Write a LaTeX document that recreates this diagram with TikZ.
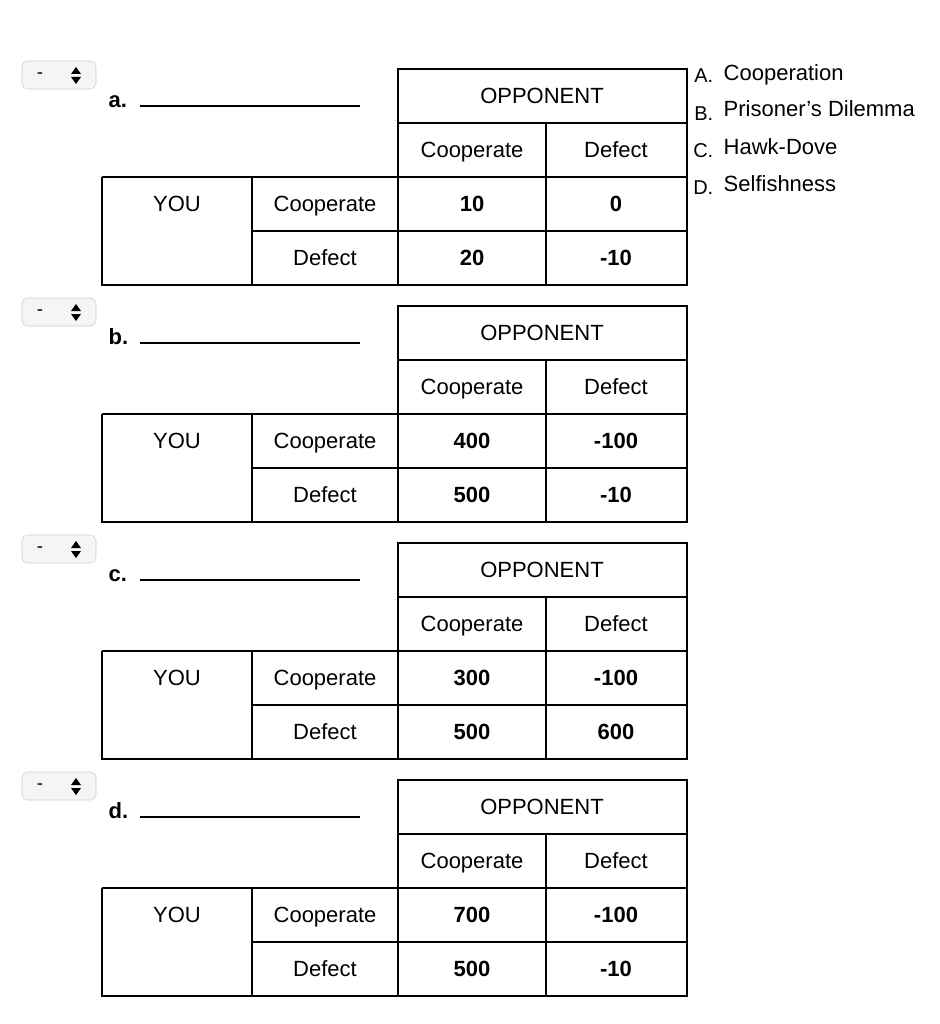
\documentclass[tikz,border=0pt]{standalone}
\usepackage{fontspec}
\setmainfont{Liberation Sans}
\tikzset{
  cell/.style={font=\fontsize{16.5}{18}\selectfont, text height=1.6ex, text depth=.3ex, yshift=-2.5pt},
  num/.style={cell, font=\fontsize{16.5}{18}\selectfont\bfseries},
  grid line/.style={line width=0.9pt},
  choice/.style={font=\fontsize{16.5}{18}\selectfont, anchor=base west}
}
\begin{document}
\begin{tikzpicture}[x=0.75pt,y=-0.75pt]
\useasboundingbox (0,0) rectangle (939,1024);
% one payoff table per game
\foreach \lab/\y/\cc/\cd/\dc/\dd in {a/69/10/0/20/-10, b/306/400/-100/500/-10, c/543/300/-100/500/600, d/780/700/-100/500/-10}{
  \begin{scope}[yshift=-0.75*\y pt]
    % drop-down box
    \draw[gray!40,fill=gray!8,rounded corners=4pt] (22,-8) rectangle (96,20);
    \node[font=\fontsize{14}{16}\selectfont] at (40,7) {-};
    \fill (76,-2) -- (81,5) -- (71,5) -- cycle;
    \fill (76,15) -- (81,8) -- (71,8) -- cycle;
    % heading and blank
    \node[num,anchor=west] (lab-\lab) at (104,31) {\lab.};
    \draw[line width=0.9pt] (140,37) -- (360,37);
    % grid
    \draw[grid line] (398,0) rectangle (687,216);
    \draw[grid line] (398,54) -- (687,54);
    \draw[grid line] (102,108) -- (687,108);
    \draw[grid line] (252,162) -- (687,162);
    \draw[grid line] (102,108) -- (102,216) -- (398,216);
    \draw[grid line] (252,108) -- (252,216);
    \draw[grid line] (546,54) -- (546,216);
    \node[cell] at (542,27) {OPPONENT};
    \node[cell] at (472,81) {Cooperate};
    \node[cell] at (616,81) {Defect};
    \node[cell] at (177,135) {YOU};
    \node[cell] at (325,135) {Cooperate};
    \node[cell] at (325,189) {Defect};
    \node[num] at (472,135) {\cc};
    \node[num] at (616,135) {\cd};
    \node[num] at (472,189) {\dc};
    \node[num] at (616,189) {\dd};
  \end{scope}
}
% answer choices
\foreach \k/\t/\yy in {A/Cooperation/80, B/Prisoner’s Dilemma/117, C/Hawk-Dove/154, D/Selfishness/191}{
  \node[choice] (opt\k) at (719,\yy) {\t};
  \node[anchor=base east,font=\fontsize{15}{16}\selectfont] at (718,\yy+3) {\k.};
}
\end{tikzpicture}
\end{document}
